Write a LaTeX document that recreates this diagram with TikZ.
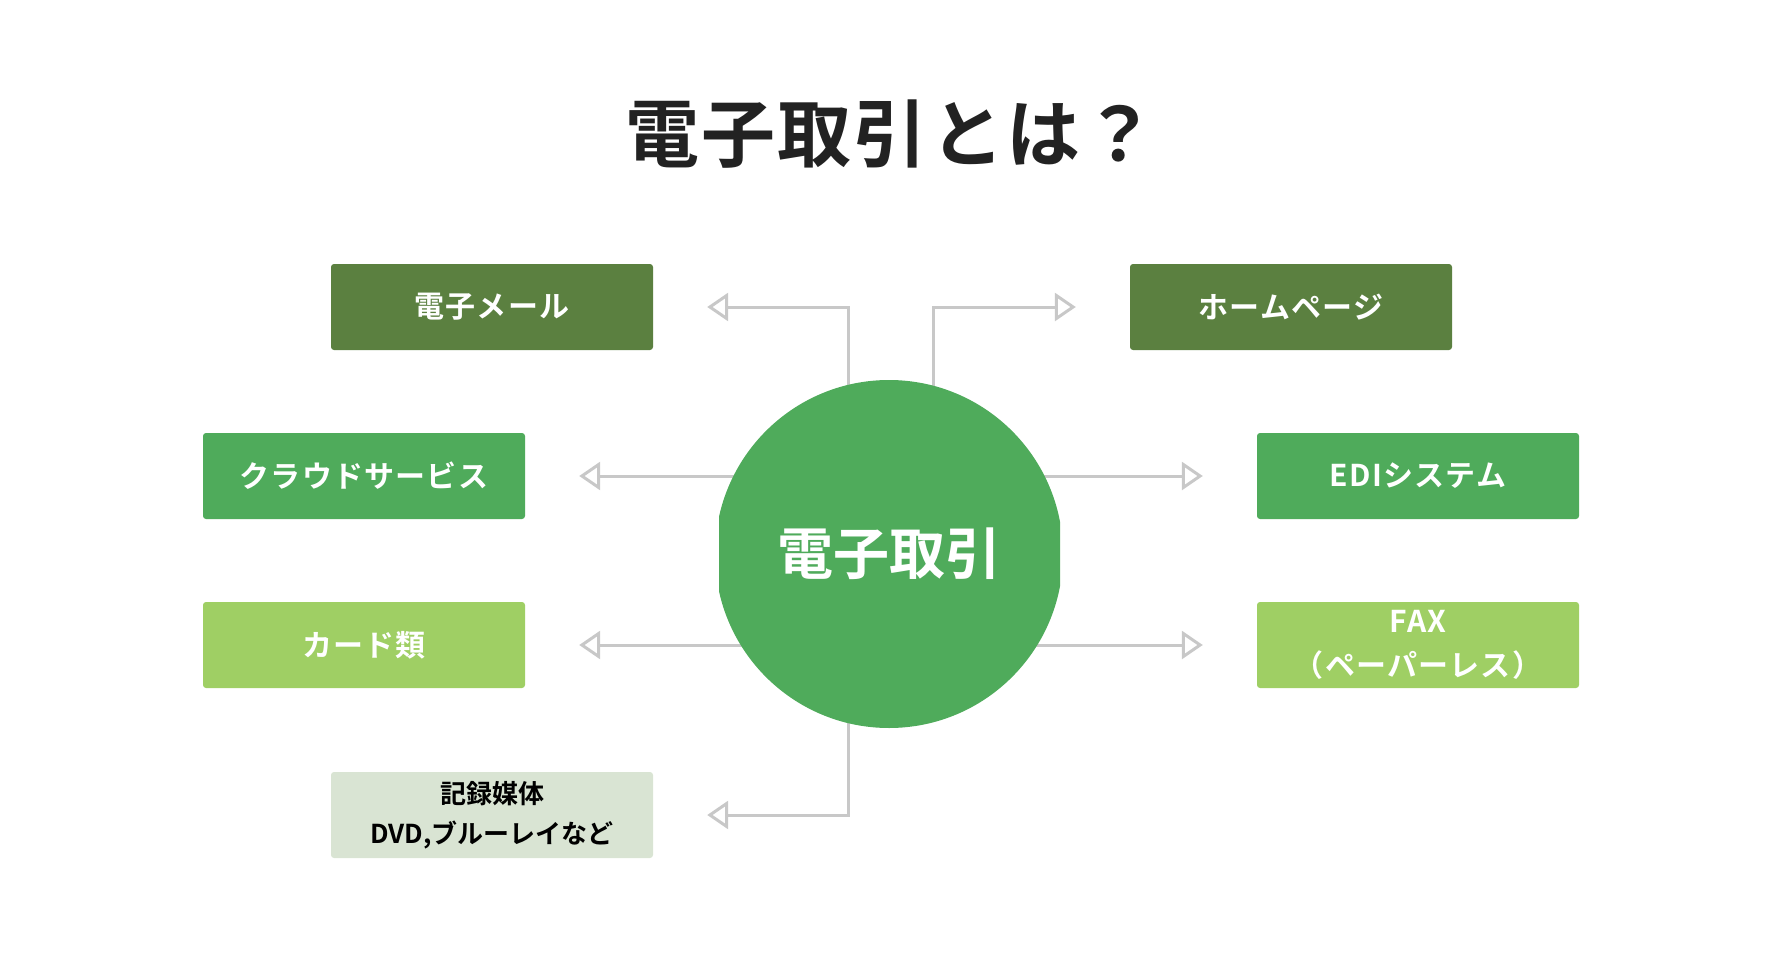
\documentclass[tikz,border=0pt]{standalone}
\usepackage{fontspec}
\setmainfont{Noto Sans CJK JP}[BoldFont={* Bold}]
\usetikzlibrary{arrows.meta,backgrounds}
\definecolor{dkgreen}{HTML}{5B8040}
\definecolor{mdgreen}{HTML}{4FAB5B}
\definecolor{ltgreen}{HTML}{9FCF64}
\definecolor{palegreen}{HTML}{D9E4D3}
\definecolor{linegray}{HTML}{C8C8C8}
\definecolor{titlegray}{HTML}{222222}
\begin{document}
\begin{tikzpicture}[x=1pt,y=-1pt,
  box/.style={rectangle, rounded corners=3pt, minimum width=322pt, minimum height=86pt,
    inner sep=0pt, text=white, align=center,
    font=\fontsize{30}{44}\selectfont\bfseries\addfontfeature{LetterSpace=4}},
  conn/.style={draw=linegray, line width=3pt,
    -{Triangle[open, length=21pt, width=28pt, line width=3pt]}}
]
\useasboundingbox (0,0) rectangle (1770,963);

\node[font=\fontsize{74}{80}\selectfont\bfseries\addfontfeature{LetterSpace=3}, text=titlegray] (title) at (891,134) {電子取引とは？};

\node[box, fill=dkgreen] (mail) at (492,307) {電子メール};
\node[box, fill=dkgreen] (home) at (1291,307) {ホームページ};
\node[box, fill=mdgreen] (cloud) at (364,476) {クラウドサービス};
\node[box, fill=mdgreen] (edi) at (1418,476) {EDIシステム};
\node[box, fill=ltgreen] (card) at (364,645) {カード類};
\node[box, fill=ltgreen] (fax) at (1418,645) {FAX\\（ペーパーレス）};
\node[box, fill=palegreen, text=black, font=\fontsize{26}{40}\selectfont\bfseries] (media) at (492,815) {記録媒体\\DVD,ブルーレイなど};

\begin{scope}
  \clip (719,360) rectangle (1060,740);
  \fill[mdgreen] (889,554) circle (174);
\end{scope}
\node[circle, minimum size=348pt, inner sep=0pt, text=white,
  font=\fontsize{56}{60}\selectfont\bfseries] (hub) at (889,554) {電子取引};

\begin{scope}[on background layer]
  \draw[conn] ([xshift=-41pt]hub.center) |- ([xshift=54pt]mail.east);
  \draw[conn] ([xshift=44pt]hub.center) |- ([xshift=-54pt]home.west);
  \draw[conn] (hub.center |- cloud.east) -- ([xshift=54pt]cloud.east);
  \draw[conn] (hub.center |- card.east) -- ([xshift=54pt]card.east);
  \draw[conn] (hub.center |- edi.west) -- ([xshift=-54pt]edi.west);
  \draw[conn] (hub.center |- fax.west) -- ([xshift=-54pt]fax.west);
  \draw[conn] ([xshift=-41pt]hub.center) |- ([xshift=54pt]media.east);
\end{scope}
\end{tikzpicture}
\end{document}
